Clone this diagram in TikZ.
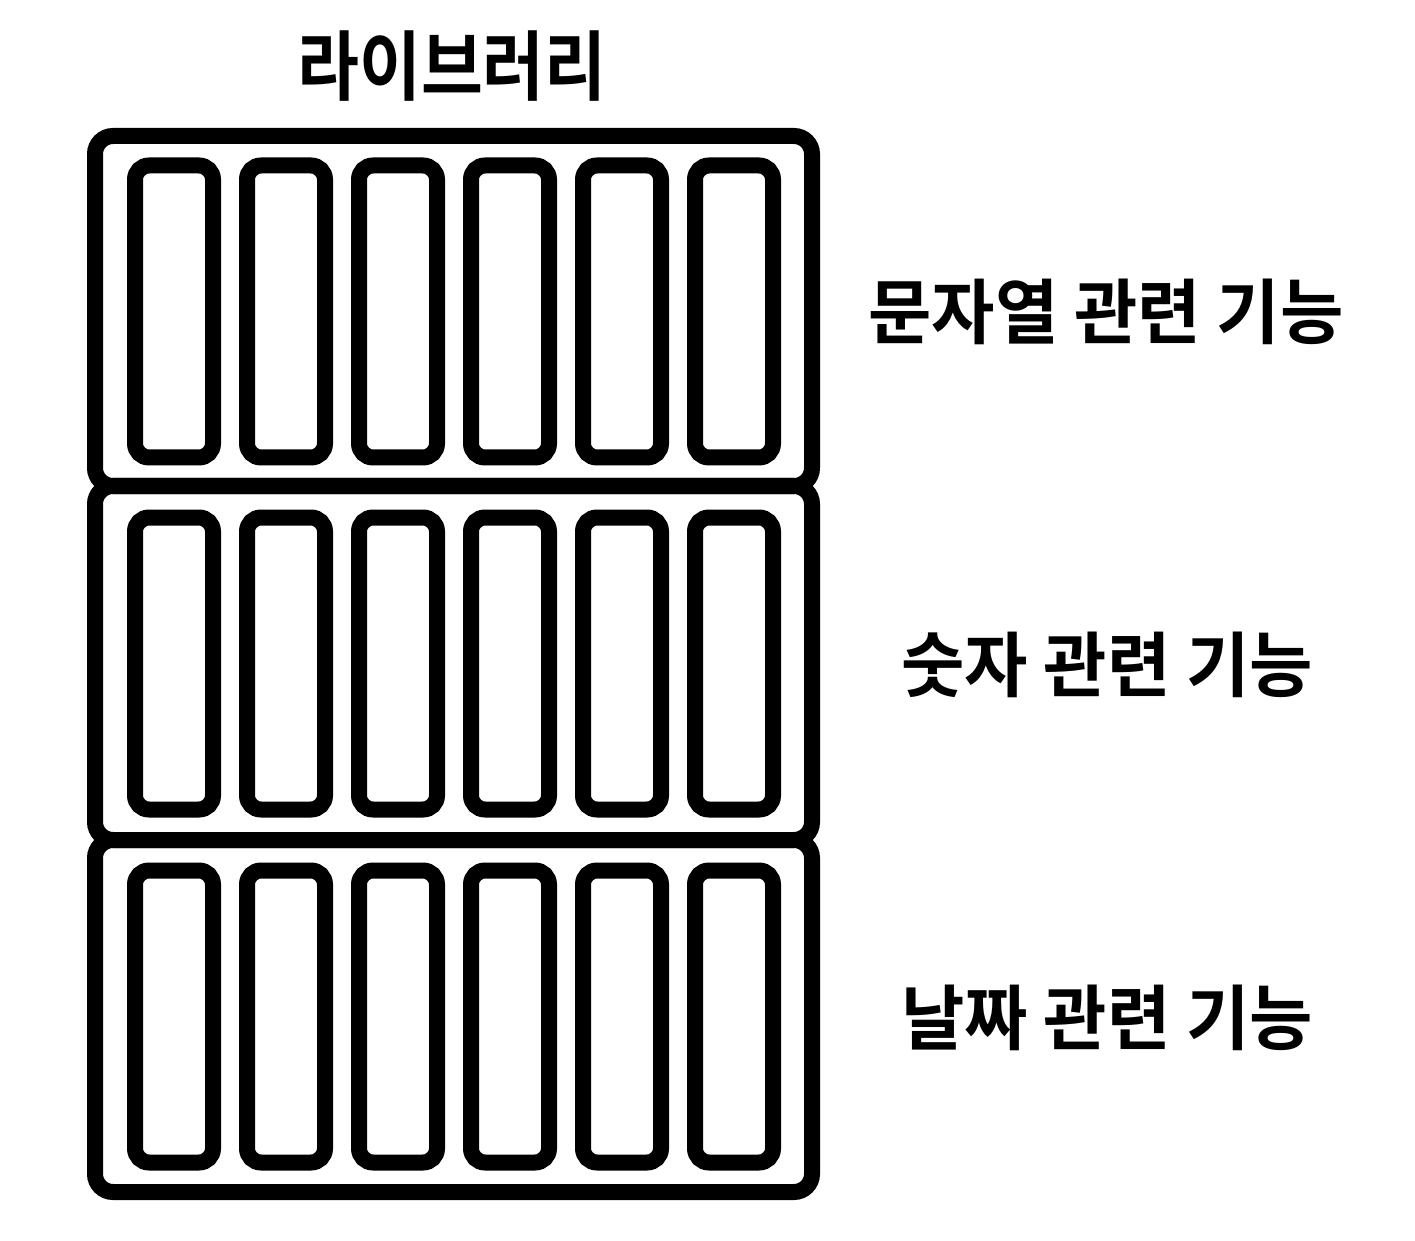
\documentclass[tikz,border=0pt]{standalone}
\usepackage{fontspec}
\newfontfamily\kr{Noto Sans CJK KR}[BoldFont={* Bold}]
\begin{document}
\begin{tikzpicture}[x=0.5pt,y=-0.5pt,
  shelf/.style={draw=black, line width=8pt, rounded corners=9pt, minimum width=358.5pt, inner sep=0pt, outer sep=0pt},
  bookbox/.style={draw=black, line width=8pt, rounded corners=7pt, minimum width=39pt, minimum height=146pt, inner sep=0pt, outer sep=0pt},
  title/.style={font=\kr\bfseries\fontsize{38}{40}\selectfont, inner sep=0pt, anchor=center},
  label/.style={font=\kr\bfseries\fontsize{35.5}{38}\selectfont, inner sep=0pt, anchor=center}]
\useasboundingbox[fill=white] (0,0) rectangle (1415,1241);
\node[shelf, minimum height=175pt] (s1) at (453.5,311) {};
\node[shelf, minimum height=177pt] (s2) at (453.5,663) {};
\node[shelf, minimum height=176pt] (s3) at (453.5,1016) {};
\foreach \r/\y in {1/311.5, 2/663.5, 3/1016.5}{
  \foreach \c in {0,...,5}{
    \node[bookbox] (b\r-\c) at ({174+112*\c},\y) {};
  }
}
\node[title] (t) at (452,66) {\scalebox{0.885}[1]{라이브러리}};
\node[label] (l1) at (1106,312) {\scalebox{0.97}[1]{문자열 관련 기능}};
\node[label] (l2) at (1107,665) {\scalebox{0.97}[1]{숫자 관련 기능}};
\node[label] (l3) at (1107,1018) {\scalebox{0.97}[1]{날짜 관련 기능}};
\end{tikzpicture}
\end{document}
